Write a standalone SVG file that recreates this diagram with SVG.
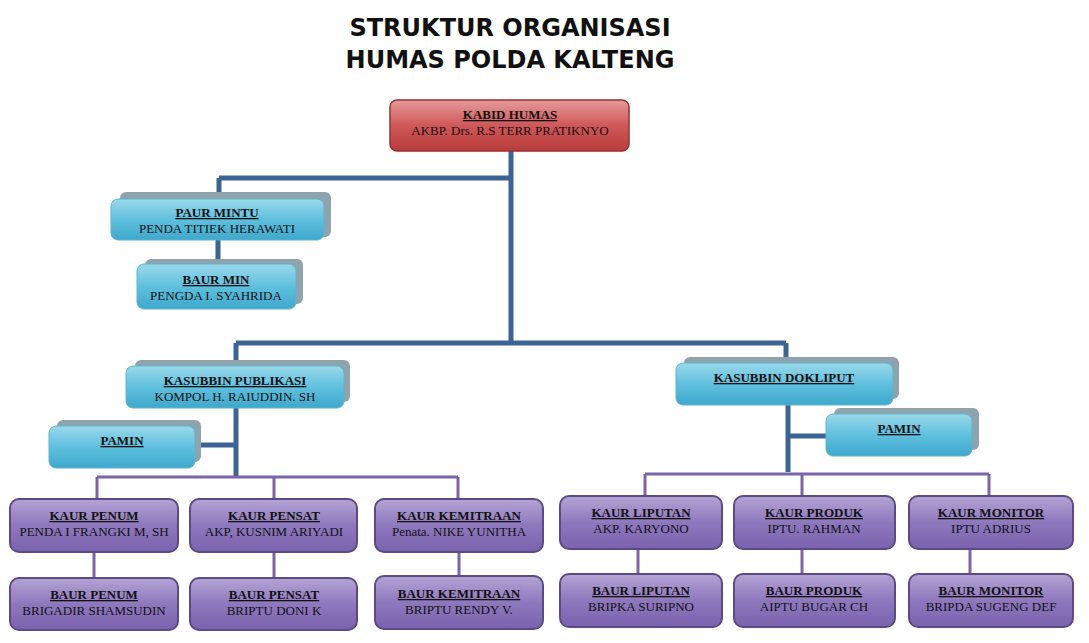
<svg xmlns="http://www.w3.org/2000/svg" width="1089" height="643" viewBox="0 0 1089 643">
<defs>
<linearGradient id="gr" x1="0" y1="0" x2="0" y2="1"><stop offset="0" stop-color="#e59a9a"/><stop offset="0.5" stop-color="#d05858"/><stop offset="1" stop-color="#b83c3c"/></linearGradient>
<linearGradient id="gb" x1="0" y1="0" x2="0" y2="1"><stop offset="0" stop-color="#9ad8ea"/><stop offset="0.5" stop-color="#5fc0de"/><stop offset="1" stop-color="#3ea8cc"/></linearGradient>
<linearGradient id="gp" x1="0" y1="0" x2="0" y2="1"><stop offset="0" stop-color="#b4a4d4"/><stop offset="0.5" stop-color="#8e78bd"/><stop offset="1" stop-color="#7a62ad"/></linearGradient>
</defs>
<style>
.t{font-family:"Liberation Serif",serif;font-size:13px;fill:#111;text-anchor:middle}
.h{text-decoration:underline;font-weight:bold}
.ti{font-family:"DejaVu Sans",sans-serif;font-weight:bold;font-size:24px;text-anchor:middle;fill:#111}
.r{fill:url(#gr);stroke:#9c3030;stroke-width:1.5}
.b{fill:url(#gb);stroke:#5fb4cf;stroke-width:1}
.s{fill:#8fa3ad}
.p{fill:url(#gp);stroke:#5b4a85;stroke-width:2}
.cb{stroke:#3b6393;stroke-width:5;fill:none}
.cp{stroke:#7a65a8;stroke-width:3;fill:none}
</style>
<rect width="1089" height="643" fill="#fff"/>
<text class="ti" x="510" y="36">STRUKTUR ORGANISASI</text>
<text class="ti" x="510" y="68">HUMAS POLDA KALTENG</text>
<g id="connectors">
<path class="cb" d="M511 151V343M219 178H511M219 178V199M218 240V264M236 343H786M236 343V366M786 343V363M236 408V477M195 445H236M788 405V472M788 436H826"/>
<path class="cp" d="M97 477H458M97 477V499M274 477V499M458 477V499M94 552V578M274 552V578M459 552V576M645 474H989M645 474V496M802 474V496M989 474V496M638 549V574M802 549V574M970 549V574"/>
</g>
<g id="kabid"><rect class="r" x="390" y="100" width="239" height="51" rx="7"/><text class="t h" x="510" y="119">KABID HUMAS</text><text class="t" x="510" y="135">AKBP. Drs. R.S TERR PRATIKNYO</text></g>
<g id="paur-mintu"><rect class="s" x="120" y="192" width="211" height="45" rx="6"/><rect class="b" x="111" y="199" width="213" height="41" rx="7"/><text class="t h" x="217" y="217">PAUR MINTU</text><text class="t" x="217" y="233">PENDA TITIEK HERAWATI</text></g>
<g id="baur-min"><rect class="s" x="145" y="259" width="158" height="45" rx="6"/><rect class="b" x="137" y="264" width="159" height="45" rx="7"/><text class="t h" x="216" y="284">BAUR MIN</text><text class="t" x="216" y="300">PENGDA I. SYAHRIDA</text></g>
<g id="kasubbin-publikasi"><rect class="s" x="135" y="360" width="215" height="42" rx="6"/><rect class="b" x="126" y="366" width="218" height="42" rx="7"/><text class="t h" x="235" y="385">KASUBBIN PUBLIKASI</text><text class="t" x="235" y="401">KOMPOL H. RAIUDDIN. SH</text></g>
<g id="kasubbin-dokliput"><rect class="s" x="684" y="357" width="215" height="42" rx="6"/><rect class="b" x="676" y="363" width="217" height="42" rx="7"/><text class="t h" x="784" y="382">KASUBBIN DOKLIPUT</text></g>
<g id="pamin-left"><rect class="s" x="57" y="420" width="144" height="42" rx="6"/><rect class="b" x="49" y="426" width="146" height="42" rx="7"/><text class="t h" x="122" y="445">PAMIN</text></g>
<g id="pamin-right"><rect class="s" x="834" y="408" width="145" height="42" rx="6"/><rect class="b" x="826" y="414" width="146" height="42" rx="7"/><text class="t h" x="899" y="433">PAMIN</text></g>
<g id="kaur-penum"><rect class="p" x="10" y="499" width="168" height="53" rx="9"/><text class="t h" x="94" y="520">KAUR PENUM</text><text class="t" x="94" y="536">PENDA I FRANGKI M,  SH</text></g>
<g id="kaur-pensat"><rect class="p" x="190" y="499" width="167" height="53" rx="9"/><text class="t h" x="274" y="520">KAUR PENSAT</text><text class="t" x="274" y="536">AKP, KUSNIM ARIYADI</text></g>
<g id="kaur-kemitraan"><rect class="p" x="375" y="499" width="168" height="53" rx="9"/><text class="t h" x="459" y="520">KAUR KEMITRAAN</text><text class="t" x="459" y="536">Penata. NIKE YUNITHA</text></g>
<g id="baur-penum"><rect class="p" x="10" y="578" width="168" height="52" rx="9"/><text class="t h" x="94" y="599">BAUR PENUM</text><text class="t" x="94" y="615">BRIGADIR SHAMSUDIN</text></g>
<g id="baur-pensat"><rect class="p" x="190" y="578" width="167" height="52" rx="9"/><text class="t h" x="274" y="599">BAUR PENSAT</text><text class="t" x="274" y="615">BRIPTU DONI K</text></g>
<g id="baur-kemitraan"><rect class="p" x="375" y="576" width="168" height="53" rx="9"/><text class="t h" x="459" y="598">BAUR KEMITRAAN</text><text class="t" x="459" y="614">BRIPTU RENDY V.</text></g>
<g id="kaur-liputan"><rect class="p" x="560" y="496" width="162" height="53" rx="9"/><text class="t h" x="641" y="517">KAUR LIPUTAN</text><text class="t" x="641" y="533">AKP. KARYONO</text></g>
<g id="kaur-produk"><rect class="p" x="734" y="496" width="161" height="53" rx="9"/><text class="t h" x="814" y="517">KAUR PRODUK</text><text class="t" x="814" y="533">IPTU. RAHMAN</text></g>
<g id="kaur-monitor"><rect class="p" x="909" y="496" width="164" height="53" rx="9"/><text class="t h" x="991" y="517">KAUR MONITOR</text><text class="t" x="991" y="533">IPTU ADRIUS</text></g>
<g id="baur-liputan"><rect class="p" x="560" y="574" width="162" height="53" rx="9"/><text class="t h" x="641" y="595">BAUR LIPUTAN</text><text class="t" x="641" y="611">BRIPKA SURIPNO</text></g>
<g id="baur-produk"><rect class="p" x="734" y="574" width="161" height="53" rx="9"/><text class="t h" x="814" y="595">BAUR PRODUK</text><text class="t" x="814" y="611">AIPTU BUGAR CH</text></g>
<g id="baur-monitor"><rect class="p" x="909" y="574" width="164" height="53" rx="9"/><text class="t h" x="991" y="595">BAUR MONITOR</text><text class="t" x="991" y="611">BRIPDA SUGENG  DEF</text></g>
</svg>
